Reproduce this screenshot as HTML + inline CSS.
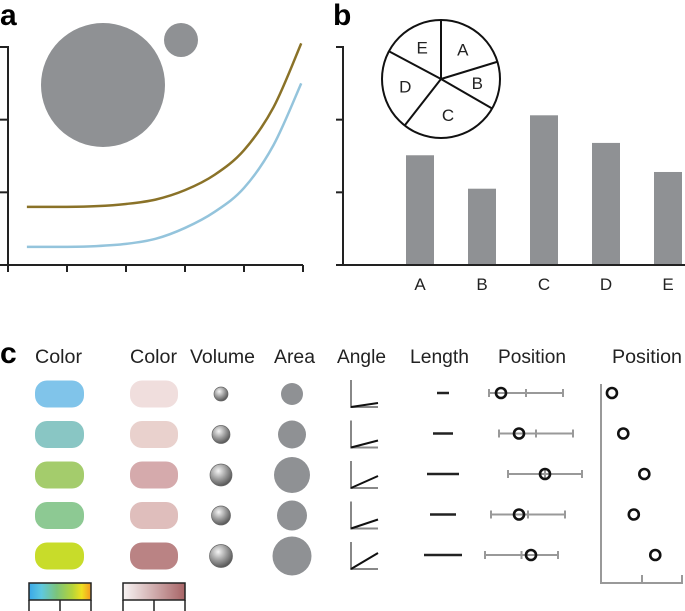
<!DOCTYPE html>
<html><head><meta charset="utf-8">
<style>
html,body{margin:0;padding:0;background:#fff;}
svg{display:block;font-family:"Liberation Sans",Arial,sans-serif;}
</style></head>
<body>
<svg id="fig" width="685" height="611" viewBox="0 0 685 611" xmlns="http://www.w3.org/2000/svg">
<defs>
<radialGradient id="sph" cx="0.38" cy="0.32" r="0.7">
<stop offset="0" stop-color="#f4f4f4"/><stop offset="0.55" stop-color="#9a9a9a"/><stop offset="1" stop-color="#555"/>
</radialGradient>
<linearGradient id="rainbow" x1="0" x2="1" y1="0" y2="0">
<stop offset="0" stop-color="#3aa8e8"/><stop offset="0.2" stop-color="#5ec8e0"/><stop offset="0.45" stop-color="#7cc47a"/><stop offset="0.7" stop-color="#b6d43a"/><stop offset="0.85" stop-color="#f0e020"/><stop offset="1" stop-color="#f59a20"/>
</linearGradient>
<linearGradient id="pinkgrad" x1="0" x2="1" y1="0" y2="0">
<stop offset="0" stop-color="#f8f4f4"/><stop offset="1" stop-color="#a86466"/>
</linearGradient>
</defs>
<text x="0" y="25" font-size="30" font-weight="bold">a</text>
<text x="333" y="25" font-size="30" font-weight="bold">b</text>
<text x="0" y="363" font-size="30" font-weight="bold">c</text>
<g id="pa"></g>
<g id="pb"></g>
<g id="pc"></g>
</svg>
<script>
// Panel a data
const curveX = [0.32,1,1.5,2,2.5,3,3.5,4,4.5,4.97];
const brownY = [0.80,0.80,0.81,0.84,0.90,1.03,1.24,1.58,2.17,3.05];
const blueY = [0.25,0.25,0.26,0.29,0.36,0.51,0.73,1.06,1.65,2.50];
const aYTicks = [0,1,2,3];
const aXTicks = [0,1,2,3,4,5];
// Panel b data
const pieCats = ["A","B","C","D","E"];
const pieVals = [73,47,98,80,62];
const barCats = ["A","B","C","D","E"];
const barVals = [1.51,1.05,2.06,1.68,1.28];
const bYTicks = [0,1,2,3];
// Panel c data
const headers = ["Color","Color","Volume","Area","Angle","Length","Position","Position"];
const hueColors = ["#80c4ea","#89c6c4","#a4cc6c","#8dc993","#c8dc2a"];
const pinkColors = ["#f0dedd","#e9d1cd","#d5aaac","#dfbebc","#ba8384"];
const volumeVals = [7,9,11,9.5,11.5];
const areaVals = [11,14,18,15,19.5];
const angleVals = [4,7,12,9,16];
const lengthVals = [12,20,32,26,38];
const posMeans = [501,519,545,519,531];
const posLow = [489,499,508,491,485];
const posHigh = [563,573,582,565,558];
const pos2Vals = [0.27,0.55,1.07,0.81,1.34];

const NS="http://www.w3.org/2000/svg";
function mk(parent,tag,attrs){const e=document.createElementNS(NS,tag);for(const k in attrs)e.setAttribute(k,attrs[k]);parent.appendChild(e);return e;}

// ---- Panel a ----
const pa=document.getElementById('pa');
const ax=v=>8+59*v, ay=v=>265-72.67*v;
let e;
e=mk(pa,'circle',{cx:103,cy:85,r:62,fill:'#8f9194'});


e=mk(pa,'circle',{cx:181,cy:40,r:17,fill:'#8f9194'});


e=mk(pa,'path',{d:`M${ax(0)} ${ay(3)-1}V${ay(0)}H${ax(5)}`,stroke:'#222',fill:'none','stroke-width':2});


aYTicks.forEach(t=>{e=mk(pa,'line',{x1:0,x2:ax(0),y1:ay(t),y2:ay(t),stroke:'#222','stroke-width':2});

});
aXTicks.forEach(t=>{e=mk(pa,'line',{x1:ax(t),x2:ax(t),y1:ay(0),y2:ay(0)+7,stroke:'#222','stroke-width':2});

});
function spline(xs,ys){const p=xs.map((x,i)=>[ax(x),ay(ys[i])]);let d=`M${p[0][0]} ${p[0][1]}`;
for(let i=0;i<p.length-1;i++){const p0=p[i-1]||p[i],p1=p[i],p2=p[i+1],p3=p[i+2]||p2;
d+=`C${p1[0]+(p2[0]-p0[0])/6} ${p1[1]+(p2[1]-p0[1])/6} ${p2[0]-(p3[0]-p1[0])/6} ${p2[1]-(p3[1]-p1[1])/6} ${p2[0]} ${p2[1]}`;}return d;}
e=mk(pa,'path',{d:spline(curveX,brownY),stroke:'#8a7228',fill:'none','stroke-width':2.5});


e=mk(pa,'path',{d:spline(curveX,blueY),stroke:'#94c4dc',fill:'none','stroke-width':2.5});



// ---- Panel b ----
const pb=document.getElementById('pb');
const bx=i=>420+62*i, by=v=>265-72.67*v;
barCats.forEach((c,i)=>{
e=mk(pb,'rect',{x:bx(i)-14,y:by(barVals[i]),width:28,height:by(0)-by(barVals[i]),fill:'#8f9194'});


e=mk(pb,'text',{x:bx(i),y:290,'font-size':17,'text-anchor':'middle',fill:'#222'});e.textContent=c;


});
e=mk(pb,'path',{d:`M343 ${by(3)-1}V${by(0)}H685`,stroke:'#222',fill:'none','stroke-width':2});


bYTicks.forEach(t=>{e=mk(pb,'line',{x1:336,x2:343,y1:by(t),y2:by(t),stroke:'#222','stroke-width':2});

});
const pcx=441,pcy=79,pr=59;const tot=pieVals.reduce((a,b)=>a+b,0);
e=mk(pb,'circle',{cx:pcx,cy:pcy,r:pr,fill:'#fff',stroke:'#111','stroke-width':2});


let acc=0;
pieVals.forEach((v,i)=>{
const a0=acc/tot*2*Math.PI;acc+=v;const am=(a0+acc/tot*2*Math.PI)/2;
e=mk(pb,'line',{x1:pcx,y1:pcy,x2:pcx+pr*Math.sin(a0),y2:pcy-pr*Math.cos(a0),stroke:'#111','stroke-width':2});


e=mk(pb,'text',{x:pcx+0.62*pr*Math.sin(am),y:pcy-0.62*pr*Math.cos(am)+6,'font-size':17,'text-anchor':'middle',fill:'#222'});e.textContent=pieCats[i];


});

// ---- Panel c ----
const pc=document.getElementById('pc');
const hx=[35,130,190,274,337,410,498,612];
const hw=[47,47,65,41,49,59,68,70];
headers.forEach((h,i)=>{e=mk(pc,'text',{x:hx[i],y:363,'font-size':19,fill:'#222',textLength:hw[i],lengthAdjust:'spacingAndGlyphs'});e.textContent=h;

});
const ry=i=>394+40.5*i;
hueColors.forEach((c,i)=>{
e=mk(pc,'rect',{x:35,y:ry(i)-13.5,width:49,height:27,rx:12,fill:c});


e=mk(pc,'rect',{x:130,y:ry(i)-13.5,width:48,height:27,rx:12,fill:pinkColors[i]});


e=mk(pc,'circle',{cx:221,cy:ry(i),r:volumeVals[i],fill:'url(#sph)',stroke:'#666','stroke-width':0.7});


e=mk(pc,'circle',{cx:292,cy:ry(i),r:areaVals[i],fill:'#8f9194'});


const ab=ry(i)+13;
e=mk(pc,'path',{d:`M351 ${ab-27}V${ab}H378`,stroke:'#888',fill:'none','stroke-width':2});


e=mk(pc,'line',{x1:351,y1:ab,x2:378,y2:ab-angleVals[i],stroke:'#111','stroke-width':2});


e=mk(pc,'line',{x1:443-lengthVals[i]/2,x2:443+lengthVals[i]/2,y1:ry(i)-1,y2:ry(i)-1,stroke:'#222','stroke-width':2.5});


const py=ry(i)-1;
e=mk(pc,'path',{d:`M${posLow[i]} ${py}H${posHigh[i]}M${posLow[i]} ${py-4}V${py+4}M${posHigh[i]} ${py-4}V${py+4}M${(posLow[i]+posHigh[i])/2} ${py-4}V${py+4}`,stroke:'#999',fill:'none','stroke-width':2});


e=mk(pc,'circle',{cx:posMeans[i],cy:py,r:5,fill:'none',stroke:'#111','stroke-width':2.6});


const p2x=v=>601+40.5*v;
e=mk(pc,'circle',{cx:p2x(pos2Vals[i]),cy:py,r:5,fill:'none',stroke:'#111','stroke-width':2.6});


});
e=mk(pc,'path',{d:'M601 384V583H683M642 583V575M682 583V575',stroke:'#999',fill:'none','stroke-width':2});


[[29,'url(#rainbow)','hue-scale'],[123,'url(#pinkgrad)','saturation-scale']].forEach(([x,f,n])=>{
e=mk(pc,'rect',{x:x,y:583,width:62,height:17,fill:f,stroke:'#222','stroke-width':1.5});


e=mk(pc,'path',{d:`M${x} 600V611M${x+31} 600V611M${x+62} 600V611`,stroke:'#222','stroke-width':1.5});


});
</script>
</body></html>
